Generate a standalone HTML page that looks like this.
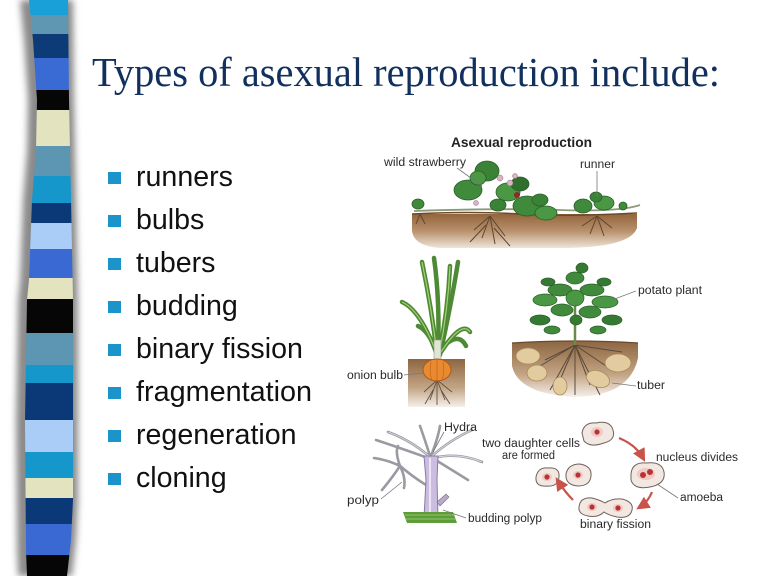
<!DOCTYPE html>
<html><head><meta charset="utf-8"><style>
html,body{margin:0;padding:0;background:#fff;}
svg{display:block;}
text{font-family:"Liberation Sans",Arial,sans-serif;}
</style></head><body>
<svg width="768" height="576" viewBox="0 0 768 576" xmlns="http://www.w3.org/2000/svg">
<defs>
<clipPath id="bar"><polygon points="29,0 33,40 37,100 36,150 32,200 29,280 27,300 25,420 26,550 27,576 67,576 71,540 73,500 73,300 72,250 71,200 69,100 68,0"/></clipPath>
<filter id="blur" x="-50%" y="-10%" width="200%" height="120%"><feGaussianBlur stdDeviation="3.5"/></filter>
<linearGradient id="soil" x1="0" y1="0" x2="0" y2="1"><stop offset="0" stop-color="#94653d"/><stop offset="0.5" stop-color="#b8916c"/><stop offset="1" stop-color="#efe4d8"/></linearGradient>
<linearGradient id="soil2" x1="0" y1="0" x2="0" y2="1"><stop offset="0" stop-color="#8d6641"/><stop offset="0.6" stop-color="#c3a585"/><stop offset="1" stop-color="#f6f0ea"/></linearGradient>
<marker id="ah" markerWidth="6" markerHeight="6" refX="4" refY="3" orient="auto"><path d="M0,0 L6,3 L0,6 Z" fill="#c9534a"/></marker>
</defs>
<rect width="768" height="576" fill="#fff"/>

<!-- left bar shadow -->
<polygon points="20,0 24,40 28,100 27,150 23,200 20,280 18,300 16,420 17,550 18,576 72,576 76,540 78,500 78,300 77,250 76,200 74,100 73,0" fill="#8a8a8a" filter="url(#blur)"/>
<g clip-path="url(#bar)">
<rect x="0" y="0" width="100" height="15" fill="#1aa0d8"/>
<rect x="0" y="15" width="100" height="19" fill="#5f97b3"/>
<rect x="0" y="34" width="100" height="24" fill="#0c3b78"/>
<rect x="0" y="58" width="100" height="32" fill="#3a6ad4"/>
<rect x="0" y="90" width="100" height="20" fill="#060606"/>
<rect x="0" y="110" width="100" height="36" fill="#e3e3c0"/>
<rect x="0" y="146" width="100" height="30" fill="#5d96b2"/>
<rect x="0" y="176" width="100" height="27" fill="#1597cb"/>
<rect x="0" y="203" width="100" height="20" fill="#0b3977"/>
<rect x="0" y="223" width="100" height="26" fill="#a9cdf6"/>
<rect x="0" y="249" width="100" height="29" fill="#3b69d3"/>
<rect x="0" y="278" width="100" height="21" fill="#e3e3c0"/>
<rect x="0" y="299" width="100" height="34" fill="#060606"/>
<rect x="0" y="333" width="100" height="32" fill="#5d96b2"/>
<rect x="0" y="365" width="100" height="18" fill="#1597cb"/>
<rect x="0" y="383" width="100" height="37" fill="#0b3977"/>
<rect x="0" y="420" width="100" height="32" fill="#a9cdf6"/>
<rect x="0" y="452" width="100" height="26" fill="#1597cb"/>
<rect x="0" y="478" width="100" height="20" fill="#e3e3c0"/>
<rect x="0" y="498" width="100" height="26" fill="#0b3977"/>
<rect x="0" y="524" width="100" height="31" fill="#3b69d3"/>
<rect x="0" y="555" width="100" height="21" fill="#060606"/>
</g>

<!-- title -->
<text x="92" y="86" style="font-family:'Liberation Serif',serif" font-size="41" fill="#12305e" textLength="628" lengthAdjust="spacingAndGlyphs">Types of asexual reproduction include:</text>

<!-- bullets -->
<g fill="#1b94cc">
<rect x="108" y="172" width="13" height="12"/>
<rect x="108" y="215" width="13" height="12"/>
<rect x="108" y="258" width="13" height="12"/>
<rect x="108" y="301" width="13" height="12"/>
<rect x="108" y="344" width="13" height="12"/>
<rect x="108" y="387" width="13" height="12"/>
<rect x="108" y="430" width="13" height="12"/>
<rect x="108" y="473" width="13" height="12"/>
</g>
<g font-size="28.6" fill="#111">
<text x="136" y="186">runners</text>
<text x="136" y="229">bulbs</text>
<text x="136" y="272">tubers</text>
<text x="136" y="315">budding</text>
<text x="136" y="358">binary fission</text>
<text x="136" y="401" textLength="176" lengthAdjust="spacingAndGlyphs">fragmentation</text>
<text x="136" y="444">regeneration</text>
<text x="136" y="487">cloning</text>
</g>

<!-- ===== Strawberry panel ===== -->
<text x="451" y="147" font-size="13.5" font-weight="bold" fill="#222" textLength="141" lengthAdjust="spacingAndGlyphs">Asexual reproduction</text>
<g font-size="11.5" fill="#2a2a2a">
<text x="384" y="166" textLength="82" lengthAdjust="spacingAndGlyphs">wild strawberry</text>
<text x="580" y="168" textLength="35" lengthAdjust="spacingAndGlyphs">runner</text>
</g>
<path d="M412,214 L637,214 L637,228 Q630,248 560,248 L440,248 Q413,246 412,230 Z" fill="url(#soil)"/>
<path d="M412,214 Q470,211 520,214 T637,213" stroke="#6b4a2a" stroke-width="1.5" fill="none"/>
<g stroke="#5a4632" stroke-width="1" fill="none">
<path d="M490,216 L482,238 M490,216 L495,244 M490,216 L505,236 M490,216 L474,230 M486,225 L470,242 M494,228 L510,246"/>
<path d="M597,216 L590,234 M597,216 L604,236 M597,216 L612,228 M597,216 L582,226"/>
<path d="M420,214 L416,224 M420,214 L425,224"/>
</g>
<path d="M414,211 Q500,208 560,210 T640,205" stroke="#8a9a7a" stroke-width="1.8" fill="none"/>
<g stroke="#2c5e2a" stroke-width="0.8">
<ellipse cx="468" cy="190" rx="14" ry="10" fill="#3f8a3b"/>
<ellipse cx="487" cy="171" rx="12" ry="10" fill="#3a8236"/>
<ellipse cx="478" cy="178" rx="8" ry="7" fill="#4b9844"/>
<ellipse cx="508" cy="192" rx="12" ry="9" fill="#4b9844"/>
<ellipse cx="527" cy="206" rx="14" ry="10" fill="#3f8a3b"/>
<ellipse cx="546" cy="213" rx="11" ry="7" fill="#4b9844"/>
<ellipse cx="540" cy="200" rx="8" ry="6" fill="#3a8236"/>
<ellipse cx="520" cy="184" rx="9" ry="7" fill="#2f6e2d"/>
<ellipse cx="498" cy="205" rx="8" ry="6" fill="#3a8236"/>
<ellipse cx="583" cy="206" rx="9" ry="7" fill="#3f8a3b"/>
<ellipse cx="604" cy="203" rx="10" ry="7" fill="#4b9844"/>
<ellipse cx="596" cy="197" rx="6" ry="5" fill="#3a8236"/>
<ellipse cx="623" cy="206" rx="4" ry="4" fill="#3f8a3b"/>
<ellipse cx="418" cy="204" rx="6" ry="5" fill="#3f8a3b"/>
</g>
<g fill="#d9b4c4" stroke="#8a6a7a" stroke-width="0.5">
<circle cx="500" cy="178" r="3"/><circle cx="510" cy="183" r="3"/><circle cx="515" cy="176" r="2.5"/><circle cx="476" cy="203" r="2.5"/>
</g>
<circle cx="517" cy="195" r="3" fill="#8a2a2a"/>
<path d="M457,168 L482,186 M597,171 L597,196" stroke="#777" stroke-width="0.8" fill="none"/>

<!-- ===== Onion panel ===== -->
<rect x="408" y="359" width="57" height="48" fill="url(#soil2)"/>
<g stroke="#4d8a33" stroke-width="4.5" fill="none" stroke-linecap="round">
<path d="M437,355 Q432,310 422,262"/>
<path d="M438,355 Q440,300 434,258"/>
<path d="M439,355 Q448,310 450,266"/>
<path d="M440,355 Q452,300 458,262"/>
<path d="M436,352 Q420,310 402,302"/>
<path d="M441,352 Q462,320 470,332"/>
<path d="M437,352 Q428,330 418,326"/>
<path d="M440,350 Q458,330 466,346"/>
</g>
<g stroke="#a6d07a" stroke-width="1.2" fill="none">
<path d="M437,355 Q432,310 422,262"/><path d="M439,355 Q448,310 450,266"/><path d="M436,352 Q420,310 402,302"/><path d="M441,352 Q462,320 470,332"/>
</g>
<rect x="434" y="340" width="7" height="20" fill="#dfe6d4" stroke="#8a9a80" stroke-width="0.6"/>
<g stroke="#5e5248" stroke-width="0.9" fill="none">
<path d="M437,380 L430,400 M437,380 L437,405 M437,380 L445,400 M437,380 L424,392 M437,380 L452,392 M433,390 L425,404 M441,390 L450,404"/>
</g>
<ellipse cx="437" cy="370" rx="14" ry="11" fill="#e98a30" stroke="#b05818" stroke-width="1"/>
<path d="M431,362 Q429,372 432,380 M437,359 L437,381 M443,362 Q445,372 442,380" stroke="#c0641c" stroke-width="0.7" fill="none"/>
<text x="347" y="379" font-size="11.5" fill="#2a2a2a" textLength="56" lengthAdjust="spacingAndGlyphs">onion bulb</text>
<path d="M404,375 L423,373" stroke="#777" stroke-width="0.8"/>

<!-- ===== Potato panel ===== -->
<path d="M512,343 Q575,339 638,343 L638,358 Q630,396 575,397 Q518,394 512,366 Z" fill="url(#soil2)"/>
<path d="M512,343 Q575,339 638,343" stroke="#6b4a2a" stroke-width="1.3" fill="none"/>
<g stroke="#5a4a3c" stroke-width="1" fill="none">
<path d="M575,345 L545,360 M575,345 L530,372 M575,345 L560,380 M575,345 L575,395 M575,345 L590,385 M575,345 L612,370 M575,345 L622,352 M575,345 L550,390 M575,345 L600,395"/>
</g>
<path d="M575,345 L575,300" stroke="#6b8a4a" stroke-width="2.5"/>
<g stroke="#2d5e2a" stroke-width="0.7" fill="#3f8a3b">
<ellipse cx="575" cy="278" rx="9" ry="6"/>
<ellipse cx="560" cy="290" rx="12" ry="6"/>
<ellipse cx="592" cy="290" rx="12" ry="6"/>
<ellipse cx="545" cy="300" rx="12" ry="6" fill="#4b9844"/>
<ellipse cx="605" cy="302" rx="13" ry="6" fill="#4b9844"/>
<ellipse cx="562" cy="310" rx="11" ry="6"/>
<ellipse cx="590" cy="312" rx="11" ry="6"/>
<ellipse cx="540" cy="320" rx="10" ry="5" fill="#357a33"/>
<ellipse cx="612" cy="320" rx="10" ry="5" fill="#357a33"/>
<ellipse cx="575" cy="298" rx="9" ry="8" fill="#4b9844"/>
<ellipse cx="552" cy="330" rx="8" ry="4"/>
<ellipse cx="598" cy="330" rx="8" ry="4"/>
<ellipse cx="582" cy="268" rx="6" ry="5" fill="#357a33"/>
<ellipse cx="548" cy="282" rx="7" ry="4" fill="#357a33"/>
<ellipse cx="604" cy="282" rx="7" ry="4" fill="#357a33"/>
<ellipse cx="576" cy="320" rx="6" ry="5" fill="#357a33"/>
</g>
<g fill="#e3cba0" stroke="#a88a5a" stroke-width="0.8">
<ellipse cx="528" cy="356" rx="12" ry="8"/>
<ellipse cx="537" cy="373" rx="10" ry="8"/>
<ellipse cx="560" cy="386" rx="7" ry="9"/>
<ellipse cx="598" cy="379" rx="12" ry="8" transform="rotate(20 598 379)"/>
<ellipse cx="618" cy="363" rx="13" ry="9"/>
</g>
<g font-size="11.5" fill="#2a2a2a">
<text x="638" y="294" textLength="64" lengthAdjust="spacingAndGlyphs">potato plant</text>
<text x="637" y="389" textLength="28" lengthAdjust="spacingAndGlyphs">tuber</text>
</g>
<path d="M636,291 L612,300 M636,386 L612,383" stroke="#777" stroke-width="0.8"/>

<!-- ===== Hydra panel ===== -->
<g stroke="#9a9aa2" stroke-width="2.6" fill="none" stroke-linecap="round">
<path d="M430,456 Q425,440 420,426"/>
<path d="M429,456 Q410,440 388,432"/>
<path d="M428,458 Q400,448 376,440"/>
<path d="M432,456 Q450,440 472,430"/>
<path d="M433,458 Q458,452 482,462"/>
<path d="M434,459 Q452,470 468,480"/>
<path d="M431,456 Q438,438 440,426"/>
<path d="M426,485 Q410,475 398,464"/>
<path d="M400,466 Q388,460 374,458"/>
<path d="M400,466 Q395,452 398,446"/>
<path d="M400,466 Q392,478 382,490"/>
<path d="M400,466 Q406,478 404,488"/>
</g>
<g stroke="#dcdce2" stroke-width="0.9" fill="none">
<path d="M429,456 Q410,440 388,432"/><path d="M432,456 Q450,440 472,430"/><path d="M433,458 Q458,452 482,462"/>
</g>
<path d="M424,456 L438,456 L437,480 L438,518 L424,518 L426,480 Z" fill="#cbbde0" stroke="#8a7aa4" stroke-width="1"/>
<path d="M430,458 L430,516" stroke="#ece4f6" stroke-width="2"/>
<path d="M437,502 L446,494 L449,497 L440,506 Z" fill="#b8aac8" stroke="#7a6a8a" stroke-width="0.6"/>
<path d="M403,512 L453,512 L457,523 L407,523 Z" fill="#5e9e3a"/>
<path d="M405,515 L455,515 M406,519 L456,519" stroke="#a8d080" stroke-width="0.8"/>
<g font-size="11.5" fill="#2a2a2a">
<text x="444" y="431" textLength="33" lengthAdjust="spacingAndGlyphs">Hydra</text>
<text x="347" y="504" textLength="32" lengthAdjust="spacingAndGlyphs">polyp</text>
<text x="468" y="522" textLength="74" lengthAdjust="spacingAndGlyphs">budding polyp</text>
</g>
<path d="M444,432 L433,452 M381,499 L402,482 M466,518 L443,510" stroke="#777" stroke-width="0.8" fill="none"/>

<!-- ===== Amoeba cycle ===== -->
<g fill="#f3e7e1" stroke="#6e625c" stroke-width="1">
<path d="M582,433 Q584,422 596,423 Q610,420 613,430 Q616,440 604,443 Q590,448 584,441 Z"/>
<path d="M631,474 Q632,462 646,463 Q662,461 664,472 Q666,484 650,487 Q634,490 631,480 Z"/>
<path d="M579,507 Q580,497 592,498 Q600,500 605,503 Q612,498 622,499 Q634,502 632,510 Q630,519 617,517 Q608,515 604,512 Q598,518 588,516 Q578,514 579,507 Z"/>
<path d="M536,477 Q538,467 548,468 Q560,467 559,477 Q558,487 547,486 Q535,487 536,477 Z"/>
<path d="M566,474 Q568,464 580,464 Q592,466 591,476 Q590,486 578,486 Q565,485 566,474 Z"/>
</g>
<g fill="#f0c8c4">
<ellipse cx="597" cy="432" rx="6" ry="5"/><ellipse cx="646" cy="474" rx="9" ry="6"/>
<ellipse cx="592" cy="507" rx="5" ry="4"/><ellipse cx="618" cy="508" rx="5" ry="4"/>
<ellipse cx="547" cy="477" rx="5" ry="4"/><ellipse cx="578" cy="475" rx="5" ry="4"/>
</g>
<g fill="#b83434">
<circle cx="597" cy="432" r="2.6"/><circle cx="643" cy="475" r="3"/><circle cx="650" cy="472" r="3"/>
<circle cx="592" cy="507" r="2.6"/><circle cx="618" cy="508" r="2.6"/>
<circle cx="547" cy="477" r="2.6"/><circle cx="578" cy="475" r="2.6"/>
</g>
<g stroke="#c9534a" stroke-width="2.2" fill="none" marker-end="url(#ah)">
<path d="M619,438 Q636,445 643,458"/>
<path d="M652,492 Q648,502 640,507"/>
<path d="M573,500 Q565,492 558,481"/>
</g>
<g font-size="11.5" fill="#2a2a2a">
<text x="482" y="447" textLength="98" lengthAdjust="spacingAndGlyphs">two daughter cells</text>
<text x="502" y="459" textLength="53" lengthAdjust="spacingAndGlyphs">are formed</text>
<text x="656" y="461" textLength="82" lengthAdjust="spacingAndGlyphs">nucleus divides</text>
<text x="680" y="501" textLength="43" lengthAdjust="spacingAndGlyphs">amoeba</text>
<text x="580" y="528" textLength="71" lengthAdjust="spacingAndGlyphs">binary fission</text>
</g>
<path d="M678,498 L657,484" stroke="#777" stroke-width="0.8"/>
</svg>
</body></html>
